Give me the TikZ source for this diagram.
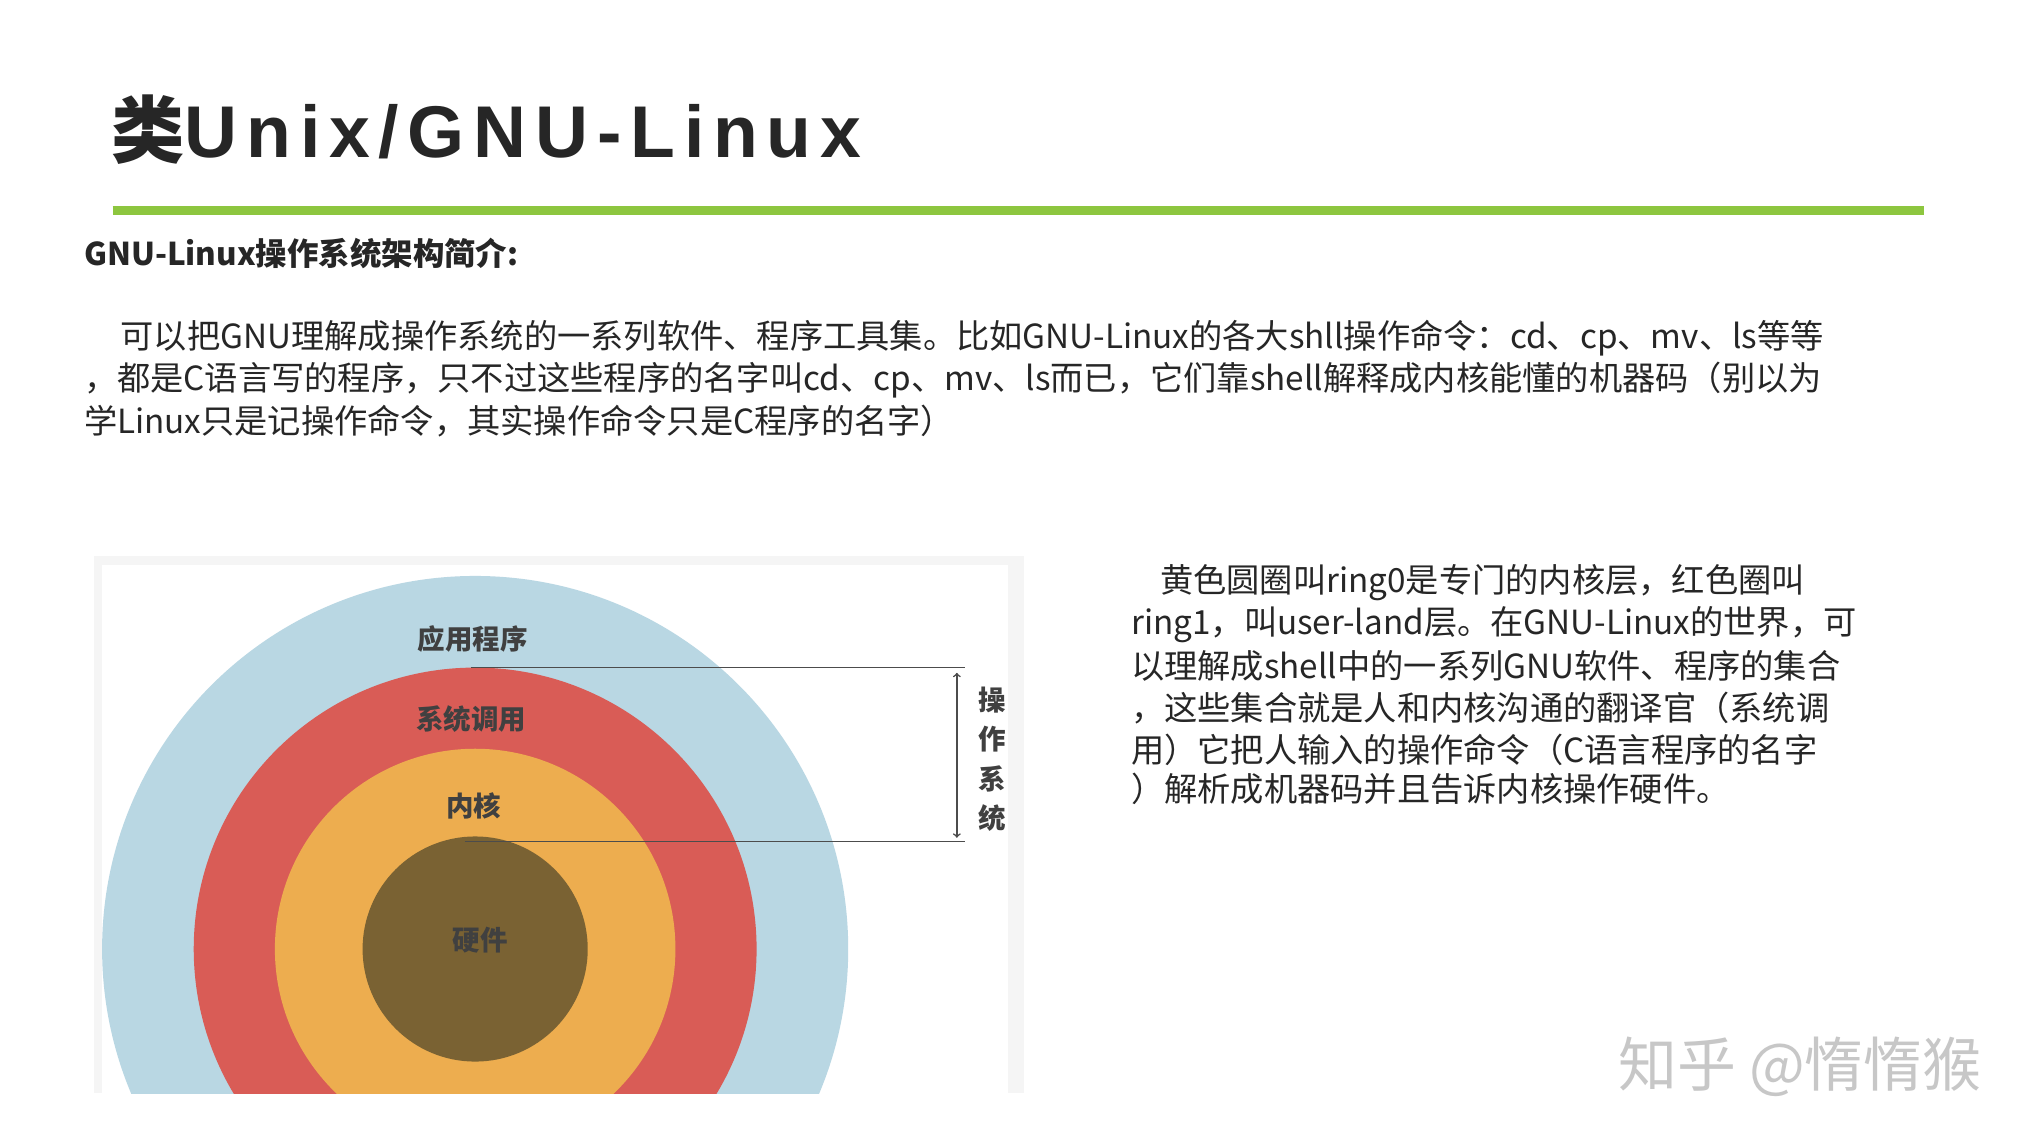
\documentclass[tikz,border=0pt]{standalone}
\usepackage{fontspec}
\setmainfont{Liberation Serif}
\newfontfamily\cjk{Noto Sans CJK SC}
\newfontfamily\ttl{Liberation Sans}[LetterSpace=12]
\definecolor{cgreen}{RGB}{141,198,63}
\definecolor{cblue}{RGB}{185,215,227}
\definecolor{cred}{RGB}{217,92,86}
\definecolor{corange}{RGB}{237,173,79}
\definecolor{cbrown}{RGB}{122,98,51}
\begin{document}
\begin{tikzpicture}[x=1pt,y=-1pt,
  lbl/.style={font=\cjk\fontsize{21}{21}\selectfont\bfseries,text=black!75},
  body/.style={anchor=west,inner sep=0,font=\cjk\fontsize{25.4}{25}\selectfont,text=black!85}]
\useasboundingbox[fill=white] (0,0) rectangle (1560,872);
\node[anchor=base west,inner sep=0,font=\cjk\fontsize{56}{56}\selectfont\bfseries,text=black!85] (title) at (85,120) {类{\ttl\bfseries Unix/GNU-Linux}};
\draw[line width=7pt,color=cgreen] (86,161) -- (1470,161);
\node[body,font=\cjk\fontsize{24}{24}\selectfont\bfseries] (h) at (64,194) {GNU-Linux操作系统架构简介:};
\node[body] (p1) at (64,258) {\hspace{28pt}可以把GNU理解成操作系统的一系列软件、程序工具集。比如GNU-Linux的各大shll操作命令：cd、cp、mv、ls等等};
\node[body] (p2) at (64,290) {，都是C语言写的程序，只不过这些程序的名字叫cd、cp、mv、ls而已，它们靠shell解释成内核能懂的机器码（别以为};
\node[body] (p3) at (64,322) {学Linux只是记操作命令，其实操作命令只是C程序的名字）};
% diagram
\fill[black!4] (72,425) rectangle (782,835);
\begin{scope}
\clip (78,432) rectangle (770,835);
\fill[white] (78,432) rectangle (770,835);
\fill[cblue] (363,725) circle (285);
\fill[cred] (363,725) circle (215);
\fill[corange] (363,725) circle (153);
\fill[cbrown] (363,725) circle (86);
\end{scope}
\node[lbl] (a) at (361,488) {应用程序};
\node[lbl] (b) at (360,549) {系统调用};
\node[lbl] (c) at (362,616) {内核};
\node[lbl] (d) at (367,718) {硬件};
\coordinate (l1a) at (360,510); \coordinate (l1b) at (737,510);
\coordinate (l2a) at (355,643); \coordinate (l2b) at (737,643);
\draw[black!70,line width=1.2pt] (l1a) -- (l1b);
\draw[black!70,line width=1.2pt] (l2a) -- (l2b);
\coordinate (v1) at (731,514); \coordinate (v2) at (731,640);
\draw[black!70,line width=1.2pt,<->] (v1) -- (v2);
\foreach \t/\yy in {操/535,作/565,系/595,统/625}
  \node[lbl] at (758,\yy) {\t};
% right text
\node[body] (r1) at (864,445) {\hspace{22pt}黄色圆圈叫ring0是专门的内核层，红色圈叫};
\node[body] (r2) at (864,477) {ring1，叫user-land层。在GNU-Linux的世界，可};
\node[body] (r3) at (864,509) {以理解成shell中的一系列GNU软件、程序的集合};
\node[body] (r4) at (864,541) {，这些集合就是人和内核沟通的翻译官（系统调};
\node[body] (r5) at (864,573) {用）它把人输入的操作命令（C语言程序的名字};
\node[body] (r6) at (864,603) {）解析成机器码并且告诉内核操作硬件。};
\node[anchor=west,inner sep=0,font=\cjk\fontsize{45}{45}\selectfont,text=black!22] (wm) at (1236,815) {知乎 @惰惰猴};
\end{tikzpicture}
\end{document}
